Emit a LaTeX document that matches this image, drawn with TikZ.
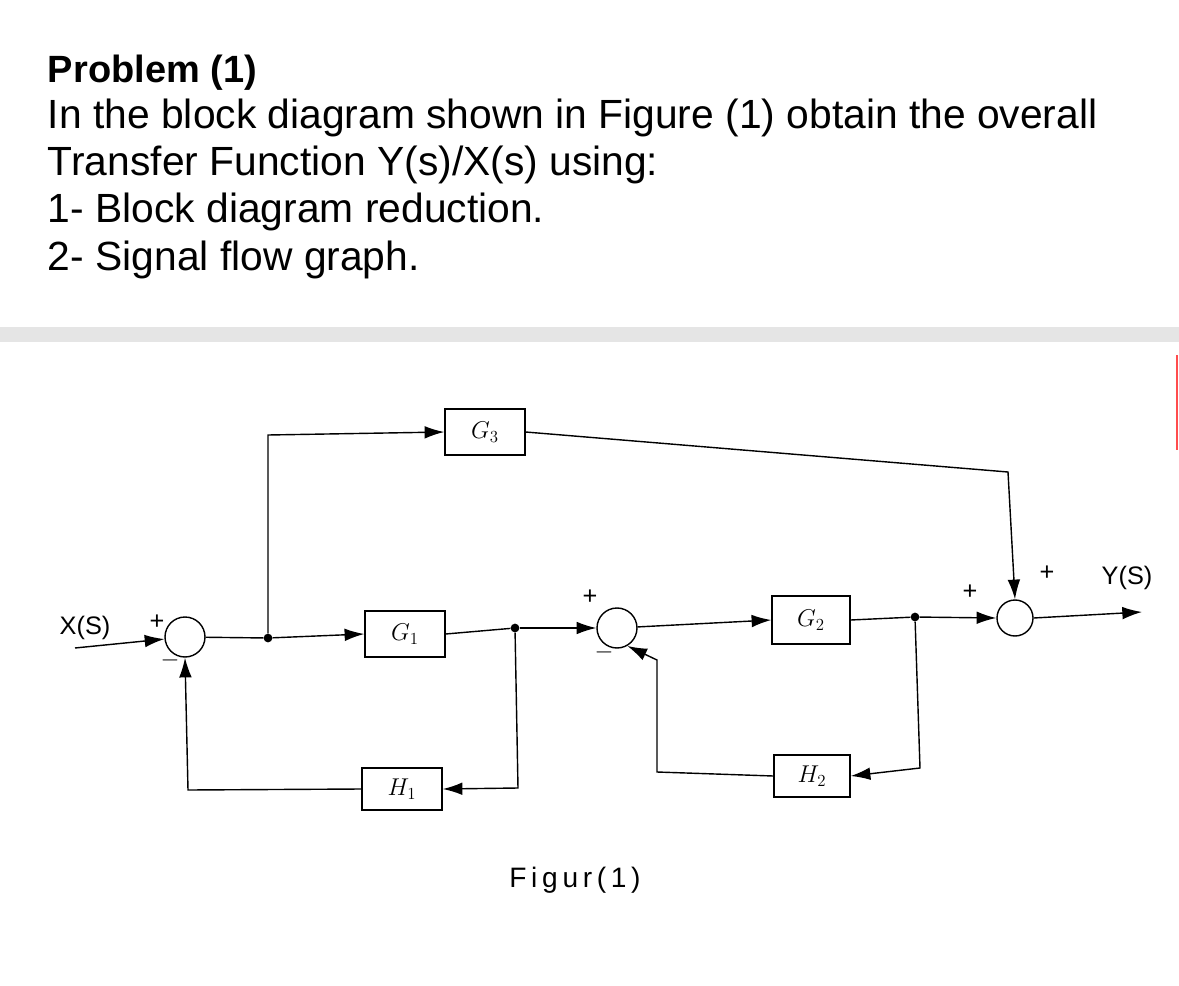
\documentclass[tikz,border=0pt]{standalone}
\usepackage{fontspec}
\setmainfont{Liberation Sans}
\usetikzlibrary{arrows.meta}
\begin{document}
\begin{tikzpicture}[x=0.025cm,y=-0.025cm,
  sm/.style={draw,circle,line width=1pt,minimum size=40*0.025cm,inner sep=0pt},
  ln/.style={line width=1pt},
  ar/.style={line width=1pt,-{Latex[length=14pt,width=9pt]}},
  dot/.style={circle,fill,inner sep=2.2pt},
  hd/.style={anchor=west,font=\fontsize{29}{32}\selectfont},
  lbl/.style={font=\fontsize{18}{20}\selectfont}]
\useasboundingbox (0,0) rectangle (1179,986);
% header text
\node[hd,font=\fontsize{27}{30}\selectfont\bfseries] (t0) at (43,73) {Problem (1)};
\node[hd] (t1) at (43,118) {In the block diagram shown in Figure (1) obtain the overall};
\node[hd] (t2) at (43,165) {Transfer Function Y(s)/X(s) using:};
\node[hd] (t3) at (43,212) {1- Block diagram reduction.};
\node[hd] (t4) at (43,260) {2- Signal flow graph.};
\fill[black!10] (0,327) rectangle (1179,342);
\draw[red!70,line width=1.2pt] (1177,355) -- (1177,450);
% blocks
\node[sm] (s1) at (185,637) {};
\node[sm] (s2) at (617,628) {};
\node[sm,minimum size=36*0.025cm] (s3) at (1015,618) {};
\node[draw,line width=1pt,minimum width=80*0.025cm,minimum height=46*0.025cm,lbl] (g3) at (485,432) {$G_3$};
\node[draw,line width=1pt,minimum width=80*0.025cm,minimum height=46*0.025cm,lbl] (g1) at (405,634) {$G_1$};
\node[draw,line width=1pt,minimum width=78*0.025cm,minimum height=48*0.025cm,lbl] (g2) at (811,620) {$G_2$};
\node[draw,line width=1pt,minimum width=80*0.025cm,minimum height=42*0.025cm,lbl] (h1) at (402,789) {$H_1$};
\node[draw,line width=1pt,minimum width=76*0.025cm,minimum height=42*0.025cm,lbl] (h2) at (812,776) {$H_2$};
% points
\node[dot] (b1) at (268,638) {};
\node[dot] (b2) at (515,628) {};
\node[dot] (b3) at (915,617) {};
\coordinate (xin) at (75,648);
\coordinate (yout) at (1142,612);
\coordinate (c1) at (268,435);
\coordinate (c2) at (1008,472);
\coordinate (c3) at (518,788);
\coordinate (c4) at (188,790);
\coordinate (c5) at (920,768);
\coordinate (c6) at (657,772);
\coordinate (c7) at (657,660);
% connectors
\draw[ar] (xin) -- (s1);
\draw[ln] (s1) -- (b1);
\draw[ar] (b1) -- (g1.west);
\draw[ar] (b1) -- (c1) -- (g3.west);
\draw[ar] (g3.east) -- (c2) -- (s3.north);
\draw[ln] (g1.east) -- (b2);
\draw[ar] (b2) -- (s2.west);
\draw[ar] (b2) -- (c3) -- (h1.east);
\draw[ar] (h1.west) -- (c4) -- (s1.south);
\draw[ar] (s2) -- (g2.west);
\draw[ln] (g2.east) -- (b3);
\draw[ar] (b3) -- (s3.west);
\draw[ar] (b3) -- (c5) -- (h2.east);
\draw[ar] (h2.west) -- (c6) -- (c7) -- (s2.-60);
\draw[ar] (s3.east) -- (yout);
% signs and labels
\node[lbl] (xs) at (85,628) {X(S)};
\node[lbl] (ys) at (1127,578) {Y(S)};
\node[lbl] (p1) at (157,622) {+};
\node[lbl] (m1) at (170,660) {$-$};
\node[lbl] (p2) at (590,597) {+};
\node[lbl] (m2) at (604,652) {$-$};
\node[lbl] (p3) at (970,592) {+};
\node[lbl] (p4) at (1047,573) {+};
\node[font=\fontsize{20}{22}\selectfont] (fig) at (575,880) {F\,i\,g\,u\,r\,(\,1\,)};
\end{tikzpicture}
\end{document}
